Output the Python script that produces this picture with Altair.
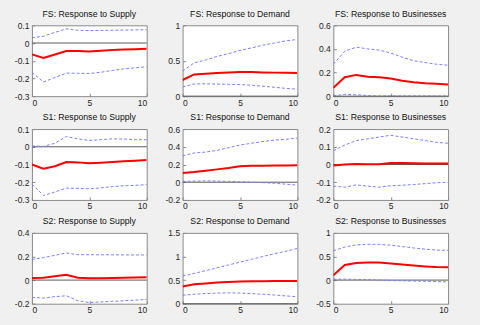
import altair as alt
import pandas as pd

h = list(range(11))

titles = [
    "FS: Response to Supply", "FS: Response to Demand", "FS: Response to Businesses",
    "S1: Response to Supply", "S1: Response to Demand", "S1: Response to Businesses",
    "S2: Response to Supply", "S2: Response to Demand", "S2: Response to Businesses",
]

median = [
    [-0.064, -0.085, -0.065, -0.045, -0.045, -0.048, -0.044, -0.040, -0.037, -0.035, -0.032],
    [0.228, 0.307, 0.315, 0.325, 0.335, 0.340, 0.340, 0.335, 0.332, 0.330, 0.326],
    [0.070, 0.160, 0.180, 0.165, 0.160, 0.150, 0.130, 0.118, 0.110, 0.105, 0.099],
    [-0.100, -0.124, -0.110, -0.086, -0.088, -0.093, -0.090, -0.086, -0.082, -0.079, -0.075],
    [0.103, 0.115, 0.130, 0.145, 0.160, 0.180, 0.185, 0.187, 0.188, 0.190, 0.192],
    [-0.005, 0.000, 0.003, 0.001, 0.002, 0.009, 0.008, 0.007, 0.006, 0.005, 0.005],
    [0.017, 0.020, 0.032, 0.045, 0.020, 0.015, 0.016, 0.018, 0.020, 0.022, 0.024],
    [0.366, 0.410, 0.430, 0.450, 0.460, 0.470, 0.475, 0.478, 0.480, 0.480, 0.480],
    [0.100, 0.320, 0.360, 0.375, 0.370, 0.350, 0.330, 0.310, 0.290, 0.275, 0.270],
]

upper = [
    [0.030, 0.038, 0.060, 0.080, 0.072, 0.070, 0.071, 0.072, 0.073, 0.074, 0.075],
    [0.353, 0.470, 0.510, 0.560, 0.600, 0.646, 0.680, 0.720, 0.750, 0.780, 0.800],
    [0.270, 0.380, 0.415, 0.400, 0.390, 0.365, 0.330, 0.300, 0.285, 0.270, 0.262],
    [0.005, 0.002, 0.020, 0.058, 0.045, 0.036, 0.040, 0.045, 0.044, 0.040, 0.040],
    [0.298, 0.330, 0.340, 0.360, 0.390, 0.420, 0.440, 0.460, 0.475, 0.485, 0.497],
    [0.077, 0.110, 0.135, 0.145, 0.155, 0.165, 0.155, 0.145, 0.135, 0.125, 0.120],
    [0.175, 0.190, 0.210, 0.230, 0.215, 0.215, 0.214, 0.214, 0.213, 0.213, 0.213],
    [0.590, 0.640, 0.700, 0.760, 0.820, 0.880, 0.940, 1.000, 1.060, 1.110, 1.170],
    [0.620, 0.700, 0.745, 0.760, 0.755, 0.740, 0.710, 0.680, 0.655, 0.635, 0.630],
]

lower = [
    [-0.165, -0.220, -0.195, -0.170, -0.171, -0.172, -0.165, -0.155, -0.146, -0.140, -0.134],
    [0.130, 0.172, 0.175, 0.170, 0.167, 0.163, 0.155, 0.140, 0.125, 0.110, 0.098],
    [0.002, 0.015, 0.012, 0.005, 0.002, 0.002, 0.002, 0.002, 0.002, 0.002, 0.002],
    [-0.210, -0.275, -0.255, -0.233, -0.235, -0.237, -0.232, -0.225, -0.220, -0.218, -0.213],
    [0.010, 0.012, 0.015, 0.013, 0.010, 0.005, 0.000, -0.005, -0.012, -0.022, -0.033],
    [-0.122, -0.128, -0.115, -0.122, -0.128, -0.120, -0.117, -0.113, -0.108, -0.103, -0.100],
    [-0.147, -0.152, -0.140, -0.133, -0.175, -0.190, -0.185, -0.180, -0.175, -0.170, -0.163],
    [0.180, 0.200, 0.215, 0.225, 0.230, 0.225, 0.215, 0.200, 0.185, 0.165, 0.148],
    [0.020, 0.020, 0.015, 0.010, 0.000, -0.010, -0.015, -0.020, -0.025, -0.030, -0.040],
]

y_ticks = [
    [-0.3, -0.2, -0.1, 0, 0.1],
    [0, 0.5, 1],
    [0, 0.2, 0.4, 0.6],
    [-0.3, -0.2, -0.1, 0, 0.1],
    [-0.2, 0, 0.2, 0.4, 0.6],
    [-0.2, -0.1, 0, 0.1, 0.2],
    [-0.2, 0, 0.2, 0.4],
    [0, 0.5, 1, 1.5],
    [-0.5, 0, 0.5, 1],
]

x_ticks = [0, 5, 10]

W, H = 115, 71
FONT = "Liberation Sans"


def panel(i):
    df = pd.DataFrame({"h": h, "median": median[i], "upper": upper[i], "lower": lower[i]})
    ticks = y_ticks[i]
    dom = [ticks[0], ticks[-1]]
    xenc = alt.X("h:Q", scale=alt.Scale(domain=[0, 10], nice=False),
                 axis=alt.Axis(values=x_ticks, title=None, labelPadding=2,
                               labelExpr="'' + datum.value"))
    yscale = alt.Scale(domain=dom, nice=False, zero=False)
    yaxis = alt.Axis(values=ticks, title=None, labelPadding=3, labelExpr="'' + datum.value")
    base = alt.Chart(df)
    zero = alt.Chart(pd.DataFrame({"z": [0]})).mark_rule(color="#5a5a5a", strokeWidth=1).encode(
        y=alt.Y("z:Q", scale=yscale, axis=yaxis))
    up = base.mark_line(color="#7d7dff", strokeWidth=1, strokeDash=[3, 2], clip=True).encode(
        x=xenc, y=alt.Y("upper:Q", scale=yscale, axis=yaxis))
    lo = base.mark_line(color="#7d7dff", strokeWidth=1, strokeDash=[3, 2], clip=True).encode(
        x=xenc, y=alt.Y("lower:Q", scale=yscale, axis=yaxis))
    med = base.mark_line(color="#ff0000", strokeWidth=2, clip=True).encode(
        x=xenc, y=alt.Y("median:Q", scale=yscale, axis=yaxis))
    return alt.layer(zero, up, lo, med).properties(
        width=W, height=H,
        title=alt.TitleParams(titles[i], fontSize=8.7, font=FONT, fontWeight="normal",
                              color="#111111", offset=3),
    )


chart = alt.concat(*[panel(i) for i in range(9)], columns=3,
                   spacing={"row": 33, "column": 36}, bounds="flush").properties(
    background="#f0f0f0",
    padding={"left": 13, "top": 8, "right": 31, "bottom": 18},
).configure_view(
    fill="white", stroke="#8a8a8a", strokeWidth=1
).configure_axis(
    grid=False, domain=False, ticks=True, tickSize=3, offset=-3, tickColor="#8a8a8a",
    labelFont=FONT, labelFontSize=8.5, labelColor="#262626"
)

chart.save("out.html", embed_options={"renderer": "svg", "actions": False})
